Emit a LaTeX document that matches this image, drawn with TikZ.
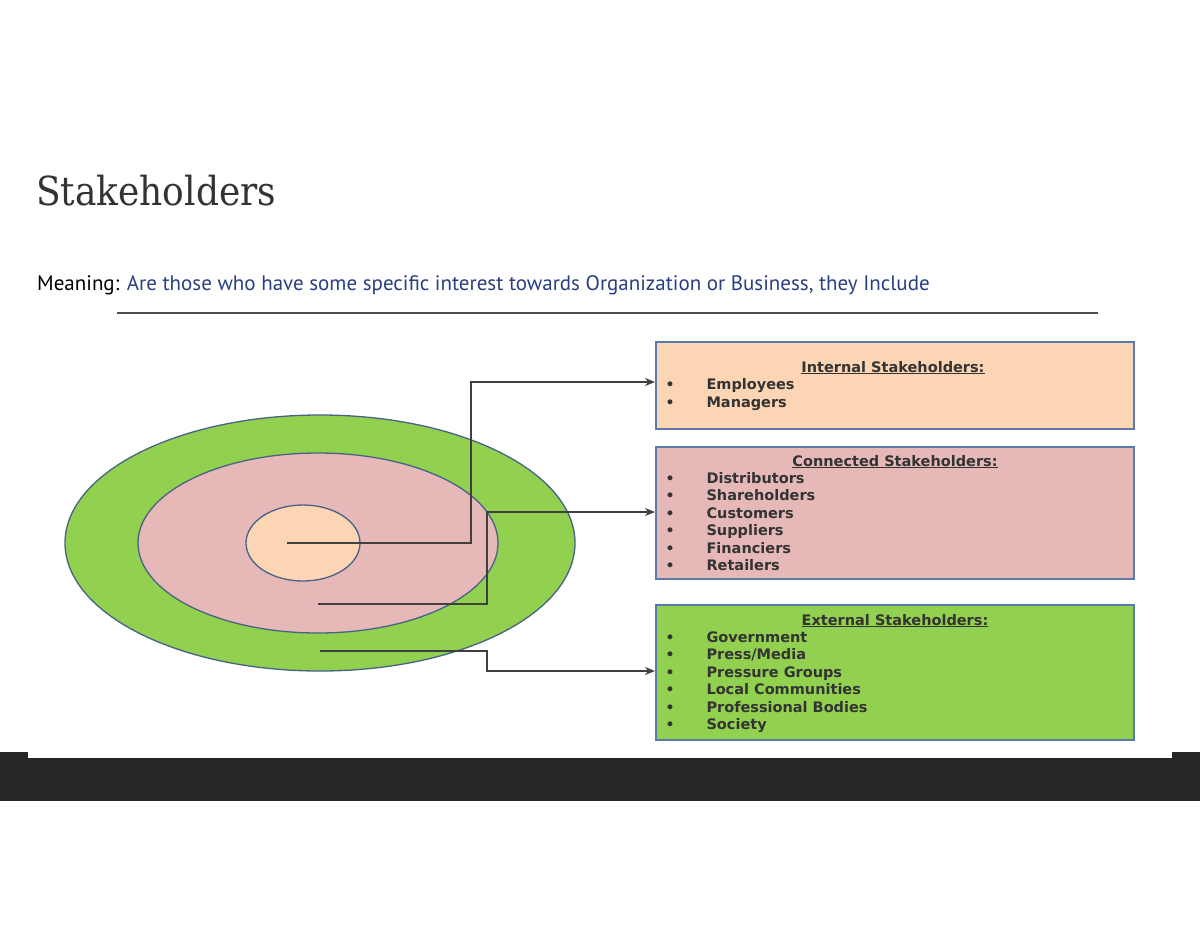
\documentclass[tikz,border=0pt]{standalone}
\usepackage{fontspec}
\setmainfont{DejaVu Sans}
\newfontfamily\titlefont{DejaVu Serif Condensed}
\newfontfamily\meanfont{PT Sans}
\newfontfamily\boxfont{DejaVu Sans}
\definecolor{peach}{HTML}{FCD5B4}
\definecolor{rose}{HTML}{E6B9B8}
\definecolor{lgreen}{HTML}{92D050}
\definecolor{bborder}{HTML}{5A7BA8}
\definecolor{navy}{HTML}{2A3F80}
\definecolor{band}{HTML}{262626}
\usetikzlibrary{arrows.meta}
\tikzset{
  sbox/.style={draw=bborder,line width=1.5pt},
  ring/.style={draw=bborder!80!black,line width=1.3pt},
  conn/.style={draw=black!75,line width=1.6pt,-{Stealth[length=10pt,width=8pt]}},
  hd/.style={anchor=base,font=\boxfont\bfseries\fontsize{14.5}{16}\selectfont,text=black!80},
  it/.style={anchor=base west,font=\boxfont\bfseries\fontsize{14.5}{16}\selectfont,text=black!80},
  bl/.style={anchor=base,font=\boxfont\bfseries\fontsize{14}{16}\selectfont,text=black!80}
}
\begin{document}
\begin{tikzpicture}[x=1pt,y=-1pt]
\useasboundingbox (0,0) rectangle (1200,927);
\fill[white] (0,0) rectangle (1200,927);
\node[anchor=base west,inner sep=0,font=\titlefont\fontsize{40}{44}\selectfont,text=black!80] (title) at (36,205) {Stakeholders};
\node[anchor=base west,inner sep=0,font=\meanfont\fontsize{21}{24}\selectfont] (mean) at (37,290) {Meaning: \textcolor{navy}{Are those who have some specific interest towards Organization or Business, they Include}};
\draw[black!70,line width=2pt] (117,313) -- (1098,313);
% rings
\filldraw[ring,fill=lgreen] (320,543) ellipse [x radius=255,y radius=128];
\filldraw[ring,fill=rose] (318,543) ellipse [x radius=180,y radius=90];
\filldraw[ring,fill=peach] (303,543) ellipse [x radius=57,y radius=38];
% boxes
\node[sbox,fill=peach,minimum width=478pt,minimum height=87pt,anchor=north west,inner sep=0] (bi) at (655,341) {};
\node[sbox,fill=rose,minimum width=478pt,minimum height=132pt,anchor=north west,inner sep=0] (bc) at (655,446) {};
\node[sbox,fill=lgreen,minimum width=478pt,minimum height=135pt,anchor=north west,inner sep=0] (be) at (655,604) {};
% texts
\node[hd] (hi) at (893,372) {\underline{Internal Stakeholders:}};
\foreach \t [count=\i] in {Employees,Managers}{
  \node[bl] (bi\i) at (670,372+17.5*\i) {•};
  \node[it] (ti\i) at (703,372+17.5*\i) {\t};
}
\node[hd] (hc) at (895,466) {\underline{Connected Stakeholders:}};
\foreach \t [count=\i] in {Distributors,Shareholders,Customers,Suppliers,Financiers,Retailers}{
  \node[bl] (bc\i) at (670,466+17.4*\i) {•};
  \node[it] (tc\i) at (703,466+17.4*\i) {\t};
}
\node[hd] (he) at (895,625) {\underline{External Stakeholders:}};
\foreach \t [count=\i] in {Government,Press/Media,Pressure Groups,Local Communities,Professional Bodies,Society}{
  \node[bl] (be\i) at (670,625+17.4*\i) {•};
  \node[it] (te\i) at (703,625+17.4*\i) {\t};
}
% connectors
\coordinate (s1) at (287,543);
\coordinate (s2) at (318,604);
\coordinate (s3) at (320,651);
\draw[conn] (s1) -- (471,543) -- (471,382) -- (bi.west |- 0,382);
\draw[conn] (s2) -- (487,604) -- (487,512) -- (bc.west |- 0,512);
\draw[conn] (s3) -- (487,651) -- (487,671) -- (be.west |- 0,671);
% band
\fill[band] (0,752) rectangle (1200,801);
\fill[white] (28,752) rectangle (1172,758);
\end{tikzpicture}
\end{document}
